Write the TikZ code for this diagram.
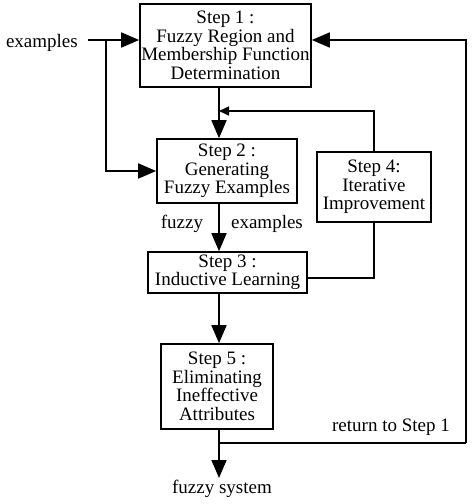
\documentclass[tikz,border=0pt]{standalone}
\usepackage{tikz}
\usepackage{fontspec}
\setmainfont{Liberation Serif}
\usetikzlibrary{arrows.meta}

\begin{document}
\begin{tikzpicture}[x=1pt, y=-1pt,
  stepbox/.style={draw, line width=1.6pt, inner sep=0pt, align=center,
    font=\fontsize{19}{18.5}\selectfont},
  lbl/.style={inner sep=2pt, font=\fontsize{19}{18.5}\selectfont},
  arr/.style={line width=1.6pt, -{Triangle[length=18pt, width=15pt]}},
  flow/.style={line width=1.6pt}]
  % Fix the page to the size of the reference
  \useasboundingbox (0,0) rectangle (474,504);

  % The five steps
  \node[stepbox, minimum width=171, minimum height=83] (s1) at (225.5,45.5)
    {Step 1 :\\Fuzzy Region and\\Membership Function\\Determination};
  \node[stepbox, minimum width=140, minimum height=64] (s2) at (227,171)
    {Step 2 :\\Generating\\Fuzzy Examples};
  \node[stepbox, minimum width=159, minimum height=41] (s3) at (227.5,272.5)
    {Step 3 :\\Inductive Learning};
  \node[stepbox, minimum width=114, minimum height=70] (s4) at (374,187)
    {Step 4:\\Iterative\\Improvement};
  \node[stepbox, minimum width=112, minimum height=85] (s5) at (217,386.5)
    {Step 5 :\\Eliminating\\Ineffective\\Attributes};

  % Texts outside the boxes
  \node[lbl, anchor=east] (inp) at (80,43) {examples};
  \node[lbl] (fz) at (182,224) {fuzzy};
  \node[lbl] (fex) at (267,224) {examples};
  \node[lbl] (ret) at (391,427) {return to Step 1};
  \node[lbl, anchor=north] (sys) at (222,478) {fuzzy system};

  % Turning points of the connectors
  \coordinate (spine) at (219,0);
  \coordinate (src) at (88,40);
  \coordinate (fork) at (106,40);
  \coordinate (back) at (219,111);
  \coordinate (loop) at (466,443);

  % Input examples into step 1 and step 2
  \draw[arr] (src) -- (s1.west |- src);
  \draw[arr] (fork) |- (s2.west);

  % Main flow down the middle
  \draw[arr] (spine |- s1.south) -- (spine |- s2.north);
  \draw[arr] (spine |- s2.south) -- (spine |- s3.north);
  \draw[arr] (spine |- s3.south) -- (spine |- s5.north);
  \draw[arr] (spine |- s5.south) -- (spine |- sys.north);

  % Iteration through step 4
  \draw[flow] ([yshift=-5.5pt]s3.east) -| (s4.south);
  \draw[line width=1.6pt, -{Triangle[length=10pt, width=9pt]}] (s4.north) |- (back);

  % Return to step 1
  \draw[flow] (spine |- loop) -- (loop);
  \draw[arr] (loop) |- (s1.east |- src);
\end{tikzpicture}
\end{document}
